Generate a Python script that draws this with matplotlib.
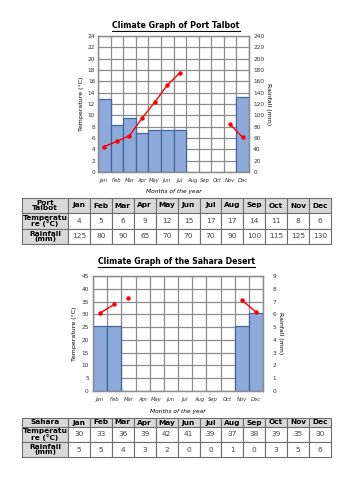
import numpy as np
import matplotlib
matplotlib.use("Agg")
import matplotlib.pyplot as plt
from matplotlib.lines import Line2D

months = ["Jan", "Feb", "Mar", "Apr", "May", "Jun", "Jul", "Aug", "Sep", "Oct", "Nov", "Dec"]
nan = np.nan

# Port Talbot - what has been drawn on the graph so far
pt_rain_drawn = [129, 83, 95, 68, 74, 74, 74, nan, nan, nan, nan, 133]
pt_temp_drawn = [4.5, 5.4, 6.4, 9.5, 12.3, 15.3, 17.5, nan, nan, nan, 8.4, 6.1]
# Port Talbot table
pt_temp = ["4", "5", "6", "9", "12", "15", "17", "17", "14", "11", "8", "6"]
pt_rain = ["125", "80", "90", "65", "70", "70", "70", "90", "100", "115", "125", "130"]

# Sahara - drawn so far
sa_rain_drawn = [5.1, 5.1, nan, nan, nan, nan, nan, nan, nan, nan, 5.1, 6.1]
sa_temp_line = [30.5, 33.9, nan, nan, nan, nan, nan, nan, nan, nan, 35.6, 30.9]
sa_temp_dot = [nan, nan, 36.5, nan, nan, nan, nan, nan, nan, nan, nan, nan]
# Sahara table
sa_temp = ["30", "33", "36", "39", "42", "41", "39", "37", "38", "39", "35", "30"]
sa_rain = ["5", "5", "4", "3", "2", "0", "0", "1", "0", "3", "5", "6"]

BAR = "#8eaadb"
BAR_EDGE = "#3f66a0"
GRID = "#8c8c8c"
RED = "#ff0000"

fig = plt.figure(figsize=(3.53, 5.0), dpi=100)
fig.patch.set_facecolor("white")
W, H = 353.0, 500.0


def px_axes(x0, y0, x1, y1):
    return fig.add_axes([x0 / W, 1 - y1 / H, (x1 - x0) / W, (y1 - y0) / H])


def climate(ax, rain, temps, tmax, tstep, rmax, rstep, lpad, rpad, rlab):
    x = np.arange(12)
    ax2 = ax.twinx()
    ax.set_zorder(ax2.get_zorder() + 1)
    ax.patch.set_visible(False)
    ax2.xaxis.set_visible(True)
    ax2.set_axisbelow(True)
    ax2.bar(x, rain, width=1.0, color=BAR, edgecolor=BAR_EDGE, linewidth=0.9)
    for t, style in temps:
        ax.plot(x, t, color=RED, marker="o", markersize=2.2, linewidth=1.0, linestyle=style)
    ax.set_xlim(-0.5, 11.5)
    ax.set_ylim(0, tmax)
    ax2.set_ylim(0, rmax)
    ax.set_yticks(np.arange(0, tmax + 0.1, tstep))
    ax2.set_yticks(np.arange(0, rmax + 0.1, rstep))
    ax.set_xticks(x)
    ax.set_xticklabels(months, fontsize=3.8, style="italic", color="#333333")
    ax2.set_xticks(np.arange(-0.5, 12, 1), minor=True)
    ax2.tick_params(axis="x", which="both", length=0, labelbottom=False)
    ax2.grid(True, which="major", axis="y", color=GRID, linewidth=0.9)
    ax2.grid(True, which="minor", axis="x", color=GRID, linewidth=0.9)
    ax.tick_params(axis="y", labelsize=4.2, length=0, pad=lpad, colors="#333333")
    ax2.tick_params(axis="y", labelsize=4.2, length=0, pad=rpad, colors="#333333")
    ax.tick_params(axis="x", which="both", length=0, pad=4)
    for a in (ax, ax2):
        for s in a.spines.values():
            s.set_color(GRID)
            s.set_linewidth(0.9)
    ax.set_xlabel("Months of the year", fontsize=4.2, style="italic", labelpad=5)
    ax.set_ylabel("Temperature (°C)", fontsize=4.5, labelpad=3)
    ax2.set_ylabel("Rainfall (mm)", fontsize=4.5, rotation=270, labelpad=rlab)
    return ax2


ax_top = px_axes(98, 36, 249, 172)
climate(ax_top, pt_rain_drawn, [(pt_temp_drawn, "-")], 24, 2, 240, 20, 2, 3, 5)

ax_bot = px_axes(93, 276, 263, 391)
climate(ax_bot, sa_rain_drawn, [(sa_temp_line, "-"), (sa_temp_dot, "none")], 45, 5, 9, 1, 3, 7, 5)

titles = []
titles.append(fig.text(176 / W, 1 - 25 / H, "Climate Graph of Port Talbot",
                       ha="center", va="center", fontsize=5.7, fontweight="bold"))
titles.append(fig.text(176 / W, 1 - 261 / H, "Climate Graph of the Sahara Desert",
                       ha="center", va="center", fontsize=5.6, fontweight="bold"))


def data_table(x0, y0, x1, y1, first, temps, rains, heights):
    ax = px_axes(x0, y0, x1, y1)
    ax.axis("off")
    cells = [[first] + months,
             ["Temperatu\nre (°C)"] + temps,
             ["Rainfall\n(mm)"] + rains]
    widths = [46] + [263 / 12.0] * 12
    tb = ax.table(cellText=cells, colWidths=widths, bbox=[0, 0, 1, 1], cellLoc="center")
    tb.auto_set_font_size(False)
    for (r, c), cell in tb.get_celld().items():
        cell.set_height(heights[r])
        cell.set_edgecolor("#6e6e6e")
        cell.set_linewidth(0.8)
        cell.PAD = 0.02
        txt = cell.get_text()
        if r == 0 or c == 0:
            cell.set_facecolor("#d9d9d9")
            txt.set_fontweight("bold")
            txt.set_fontsize(5.3)
            txt.set_linespacing(0.9)
        else:
            cell.set_facecolor("white")
            txt.set_fontsize(5.3)
            txt.set_color("#444444")
    return tb


data_table(22, 198, 331, 244, "Port\nTalbot", pt_temp, pt_rain, [15, 16, 15])
data_table(22, 418, 331, 457, "Sahara", sa_temp, sa_rain, [9, 15, 15])

fig.canvas.draw()
r = fig.canvas.get_renderer()
for t in titles:
    bb = t.get_window_extent(r)
    y = bb.y0 - 1
    fig.add_artist(Line2D([bb.x0 / W, bb.x1 / W], [y / H, y / H], color="black",
                          linewidth=0.8, transform=fig.transFigure))

fig.savefig("out.png", dpi=100, facecolor="white")
